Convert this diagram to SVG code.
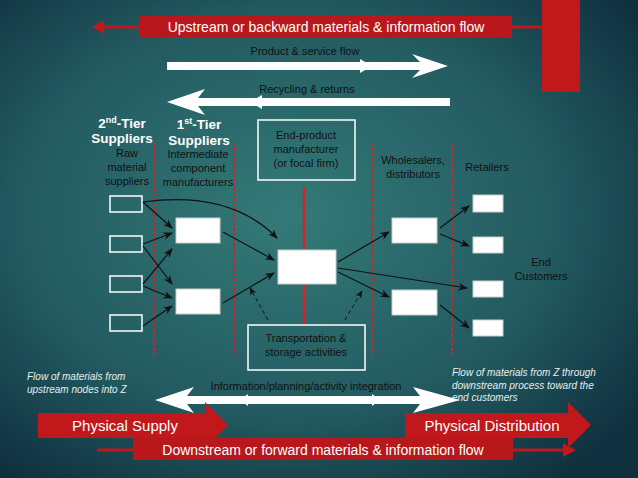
<svg xmlns="http://www.w3.org/2000/svg" width="638" height="478" viewBox="0 0 638 478">
<defs>
<radialGradient id="bg" cx="45%" cy="45%" r="70%">
<stop offset="0" stop-color="#347a78"/><stop offset="0.6" stop-color="#225a60"/><stop offset="1" stop-color="#0f2f3e"/>
</radialGradient>
<marker id="ah" viewBox="0 0 10 10" refX="9" refY="5" markerWidth="8" markerHeight="8" orient="auto"><path d="M0,1 L10,5 L0,9 L3,5Z" fill="#111"/></marker>
<style>
.t{font-family:"Liberation Sans",Arial,sans-serif;font-size:11px;fill:#111;text-anchor:middle}
.h{font-family:"Liberation Sans",Arial,sans-serif;font-size:13.5px;font-weight:bold;fill:#fff;text-anchor:middle}
.rt{font-family:"Liberation Sans",Arial,sans-serif;fill:#fff;text-anchor:middle}
.it{font-family:"Liberation Sans",Arial,sans-serif;font-size:10px;font-style:italic;fill:#e8eeee}
.wb{fill:#fff;stroke:#ccc;stroke-width:1}
.ob{fill:none;stroke:#fff;stroke-width:1.5}
.dash{stroke:#c8262a;stroke-width:2;stroke-dasharray:3,2}
.c{fill:none;stroke:#111;stroke-width:1.2;marker-end:url(#ah)}
.d{fill:none;stroke:#111;stroke-width:1;stroke-dasharray:4,3;marker-end:url(#ah)}
</style>
</defs>
<rect width="638" height="478" fill="url(#bg)"/>
<g id="top-flow">
<rect x="542" y="0" width="38" height="92" fill="#c0181b"/>
<line x1="98" y1="27" x2="545" y2="27" stroke="#c0181b" stroke-width="3"/>
<path d="M92,27 L104,20 L104,34Z" fill="#c0181b"/>
<rect x="140" y="16" width="372" height="22" fill="#b8181b"/>
<text class="rt" x="326" y="32" font-size="14">Upstream or backward materials &amp; information flow</text>
<text class="t" x="305" y="55">Product &amp; service flow</text>
<path d="M167,62 H420 L412,54 L448,66 L412,78 L420,70 H167Z" fill="#fff"/>
<path d="M360,59 L372,66 L360,73Z" fill="#fff"/>
<text class="t" x="307" y="93">Recycling &amp; returns</text>
<path d="M450,98 H198 L205,89 L167,102 L205,115 L198,106 H450Z" fill="#fff"/>
<path d="M262,95 L250,102 L262,109Z" fill="#fff"/>
</g>
<g id="dividers">
<line class="dash" x1="154" y1="143" x2="154" y2="358"/>
<line class="dash" x1="234" y1="143" x2="234" y2="358"/>
<line class="dash" x1="372" y1="143" x2="372" y2="358"/>
<line class="dash" x1="452" y1="143" x2="452" y2="358"/>
<line x1="304" y1="187" x2="304" y2="325" stroke="#d0262a" stroke-width="2.5"/>
</g>
<g id="labels">
<text class="h" x="122" y="128">2<tspan font-size="9" dy="-5">nd</tspan><tspan dy="5">-Tier</tspan></text>
<text class="h" x="122" y="143">Suppliers</text>
<text class="h" x="199" y="129">1<tspan font-size="9" dy="-5">st</tspan><tspan dy="5">-Tier</tspan></text>
<text class="h" x="199" y="145">Suppliers</text>
<text class="t" x="127" y="157">Raw</text><text class="t" x="127" y="171">material</text><text class="t" x="127" y="185">suppliers</text>
<text class="t" x="198" y="158">Intermediate</text><text class="t" x="198" y="172">component</text><text class="t" x="198" y="186">manufacturers</text>
<text class="t" x="413" y="164">Wholesalers,</text><text class="t" x="413" y="178">distributors</text>
<text class="t" x="487" y="171">Retailers</text>
<text class="t" x="541" y="266">End</text><text class="t" x="541" y="280">Customers</text>
</g>
<g id="focal"><rect x="258" y="120" width="97" height="60" fill="none" stroke="#fff" stroke-width="1.5"/>
<text class="t" x="306" y="139">End-product</text><text class="t" x="306" y="153">manufacturer</text><text class="t" x="306" y="167">(or focal firm)</text>
<rect class="wb" x="278" y="250" width="58" height="34"/></g>
<g id="raw"><rect class="ob" x="110" y="196" width="32" height="16"/><rect class="ob" x="110" y="236" width="32" height="16"/><rect class="ob" x="110" y="276" width="32" height="16"/><rect class="ob" x="110" y="315" width="32" height="16"/></g>
<g id="tier1"><rect class="wb" x="176" y="218" width="44" height="25"/><rect class="wb" x="176" y="289" width="44" height="25"/></g>
<g id="wholesale"><rect class="wb" x="392" y="218" width="45" height="25"/><rect class="wb" x="392" y="290" width="45" height="25"/></g>
<g id="retail"><rect class="wb" x="473" y="195" width="30" height="17"/><rect class="wb" x="473" y="237" width="30" height="16"/><rect class="wb" x="473" y="281" width="30" height="16"/><rect class="wb" x="473" y="320" width="30" height="16"/></g>
<g id="transport"><rect x="248" y="325" width="117" height="45" fill="none" stroke="#fff" stroke-width="1.5"/>
<text class="t" x="306" y="342">Transportation &amp;</text><text class="t" x="306" y="356">storage activities</text></g>
<g id="connectors">
<path class="c" d="M143,202 L172,228"/>
<path class="c" d="M143,244 L172,233"/>
<path class="c" d="M143,246 L172,284"/>
<path class="c" d="M143,284 L172,249"/>
<path class="c" d="M143,286 L172,298"/>
<path class="c" d="M143,326 L172,306"/>
<path class="c" d="M143,202 Q230,190 277,238"/>
<path class="c" d="M223,232 L274,260"/>
<path class="c" d="M223,303 L274,273"/>
<path class="d" d="M268,320 L250,288"/>
<path class="d" d="M345,320 L362,291"/>
<path class="c" d="M338,262 L389,232"/>
<path class="c" d="M338,268 L467,288"/>
<path class="c" d="M338,272 L389,297"/>
<path class="c" d="M440,228 L469,206"/>
<path class="c" d="M440,234 L469,246"/>
<path class="c" d="M440,305 L469,328"/>
</g>
<g id="bottom-flow">
<text class="it" x="27" y="380">Flow of materials from</text><text class="it" x="27" y="393">upstream nodes into Z</text>
<text class="it" x="452" y="376">Flow of materials from Z through</text><text class="it" x="452" y="389">downstream process toward the</text><text class="it" x="452" y="401">end customers</text>
<text class="t" x="306" y="390">Information/planning/activity integration</text>
<path d="M155,400 L194,387 L187,396 H420 L413,387 L460,400 L413,413 L420,404 H187 L194,413Z" fill="#fff"/>
<path d="M248,394 L240,400 L248,406Z M372,394 L380,400 L372,406Z" fill="#fff"/>
<path d="M38,413 H205 V402 L228,425 L205,448 V438 H38Z" fill="#c0181b"/>
<text class="rt" x="125" y="431" font-size="15">Physical Supply</text>
<path d="M405,413 H568 V402 L591,425 L568,448 V438 H405Z" fill="#c0181b"/>
<text class="rt" x="492" y="431" font-size="15">Physical Distribution</text>
<line x1="97" y1="450" x2="566" y2="450" stroke="#c0181b" stroke-width="3"/>
<path d="M576,450 L563,443 L563,457Z" fill="#c0181b"/>
<rect x="133" y="438" width="380" height="22" fill="#b8181b"/>
<text class="rt" x="323" y="455" font-size="14">Downstream or forward materials &amp; information flow</text>
</g>
</svg>
